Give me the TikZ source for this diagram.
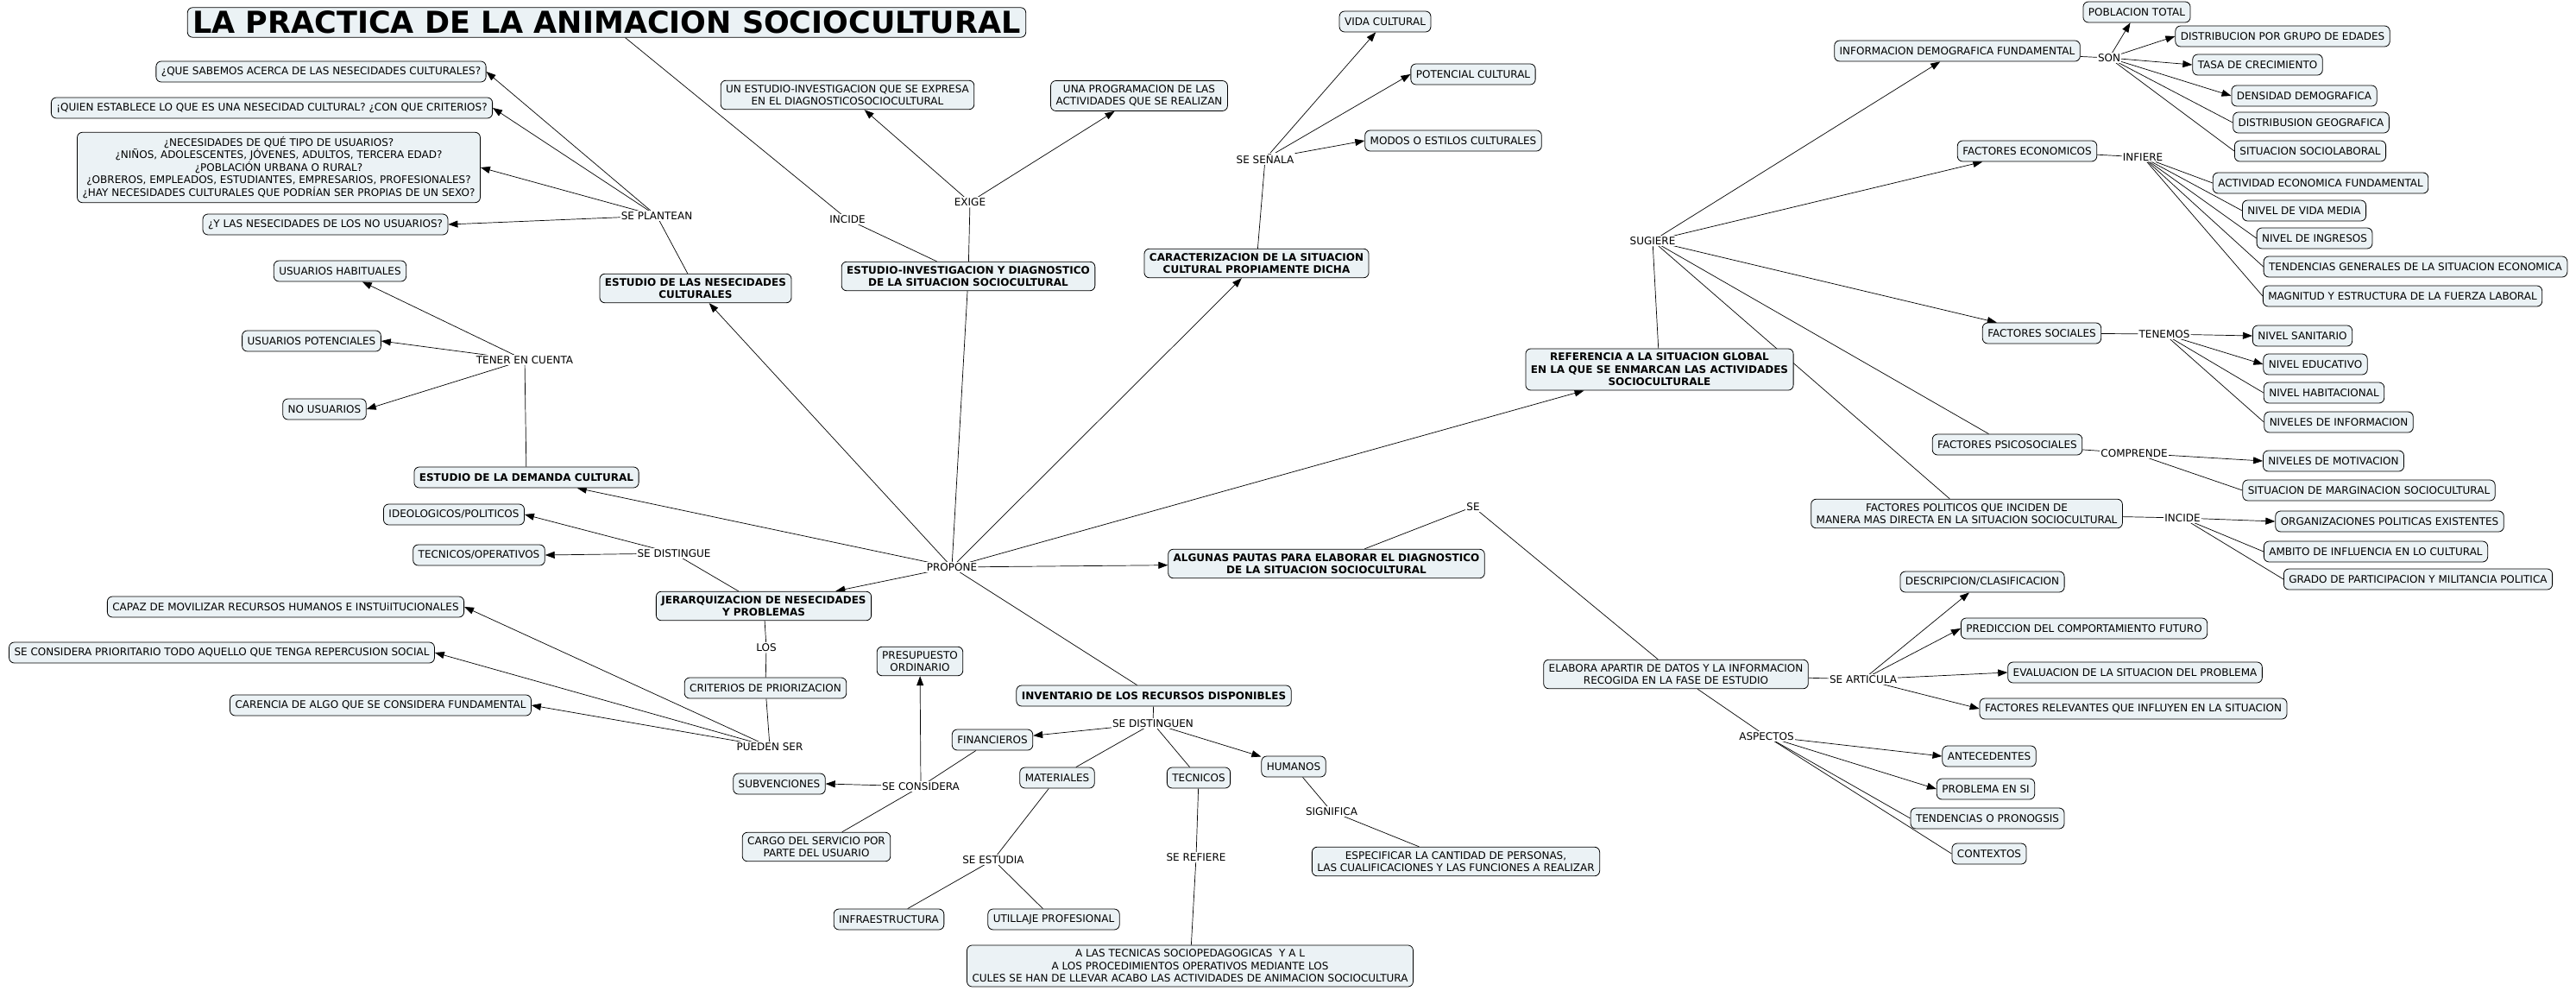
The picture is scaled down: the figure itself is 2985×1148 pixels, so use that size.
\documentclass[tikz,border=0pt]{standalone}
\usepackage{fontspec}
\setmainfont{DejaVu Sans}
\usetikzlibrary{arrows.meta,backgrounds}
\definecolor{boxfill}{RGB}{235,242,245}
\newcommand\fsm{\fontsize{12}{14.5}\selectfont}
\newcommand\fbd{\fontsize{12}{14.5}\selectfont\bfseries}
\begin{document}
\begin{tikzpicture}[x=1pt,y=-1pt,
  c/.style={draw=black,line width=0.8pt,rounded corners=6pt,fill=boxfill,font=\fsm,align=center,inner xsep=6pt,inner ysep=5pt,minimum height=24pt},
  b/.style={c,font=\fbd},
  l/.style={font=\fsm,inner sep=1pt,fill=white},
  e/.style={line width=0.7pt},
  a/.style={e,-{Triangle[length=11pt,width=8pt]}}]
\useasboundingbox (0,0) rectangle (2985,1148);
% nodes
\node[c,font=\fontsize{35}{40}\selectfont\bfseries,inner ysep=4pt] (title) at (703,26) {LA PRACTICA DE LA ANIMACION SOCIOCULTURAL};
\node[c] (q1) at (372,83) {¿QUE SABEMOS ACERCA DE LAS NESECIDADES CULTURALES?};
\node[c] (q2) at (315,125) {¡QUIEN ESTABLECE LO QUE ES UNA NESECIDAD CULTURAL? ¿CON QUE CRITERIOS?};
\node[c] (q3) at (323,194) {¿NECESIDADES DE QUÉ TIPO DE USUARIOS?\\¿NIÑOS, ADOLESCENTES, JÓVENES, ADULTOS, TERCERA EDAD?\\¿POBLACIÓN URBANA O RURAL?\\¿OBREROS, EMPLEADOS, ESTUDIANTES, EMPRESARIOS, PROFESIONALES?\\¿HAY NECESIDADES CULTURALES QUE PODRÍAN SER PROPIAS DE UN SEXO?};
\node[c] (q4) at (377,260) {¿Y LAS NESECIDADES DE LOS NO USUARIOS?};
\node[l] (plantean) at (761,250) {SE PLANTEAN};
\node[b] (enc) at (806,334) {ESTUDIO DE LAS NESECIDADES\\CULTURALES};
\node[c] (uh) at (394,314) {USUARIOS HABITUALES};
\node[c] (up) at (361,395) {USUARIOS POTENCIALES};
\node[c] (nu) at (376,474) {NO USUARIOS};
\node[l] (tener) at (608,417) {TENER EN CUENTA};
\node[b] (edc) at (610,553) {ESTUDIO DE LA DEMANDA CULTURAL};
\node[c] (ideo) at (526,596) {IDEOLOGICOS/POLITICOS};
\node[c] (tecop) at (555,643) {TECNICOS/OPERATIVOS};
\node[l] (distingue) at (781,641) {SE DISTINGUE};
\node[b] (jer) at (885,702) {JERARQUIZACION DE NESECIDADES\\Y PROBLEMAS};
\node[l] (los) at (888,750) {LOS};
\node[c] (crit) at (887,797) {CRITERIOS DE PRIORIZACION};
\node[l] (pueden) at (892,865) {PUEDEN SER};
\node[c] (capaz) at (331,703) {CAPAZ DE MOVILIZAR RECURSOS HUMANOS E INSTUiITUCIONALES};
\node[c] (prior) at (257,756) {SE CONSIDERA PRIORITARIO TODO AQUELLO QUE TENGA REPERCUSION SOCIAL};
\node[c] (caren) at (441,817) {CARENCIA DE ALGO QUE SE CONSIDERA FUNDAMENTAL};
\node[l] (propone) at (1103,657) {PROPONE};
\node[c] (presu) at (1066,766) {PRESUPUESTO\\ORDINARIO};
\node[c] (subv) at (903,908) {SUBVENCIONES};
\node[l] (considera) at (1067,911) {SE CONSIDERA};
\node[c] (cargo) at (946,981) {CARGO DEL SERVICIO POR\\PARTE DEL USUARIO};
\node[c] (infra) at (1030,1065) {INFRAESTRUCTURA};
\node[c] (unest) at (982,110) {UN ESTUDIO-INVESTIGACION QUE SE EXPRESA\\EN EL DIAGNOSTICOSOCIOCULTURAL};
\node[l] (exige) at (1124,234) {EXIGE};
\node[l] (incide) at (982,254) {INCIDE};
\node[c] (prog) at (1320,111) {UNA PROGRAMACION DE LAS\\ACTIVIDADES QUE SE REALIZAN};
\node[b] (edi) at (1122,320) {ESTUDIO-INVESTIGACION Y DIAGNOSTICO\\DE LA SITUACION SOCIOCULTURAL};
\node[b] (car) at (1456,305) {CARACTERIZACION DE LA SITUACION\\CULTURAL PROPIAMENTE DICHA};
\node[l] (senala) at (1466,184) {SE SEÑALA};
\node[c] (vida) at (1605,25) {VIDA CULTURAL};
\node[c] (pot) at (1707,86) {POTENCIAL CULTURAL};
\node[c] (modos) at (1684,163) {MODOS O ESTILOS CULTURALES};
\node[b] (pautas) at (1537,653) {ALGUNAS PAUTAS PARA ELABORAR EL DIAGNOSTICO\\DE LA SITUACION SOCIOCULTURAL};
\node[l] (se) at (1707,587) {SE};
\node[b] (ref) at (1923,428) {REFERENCIA A LA SITUACION GLOBAL\\EN LA QUE SE ENMARCAN LAS ACTIVIDADES\\SOCIOCULTURALE};
\node[l] (sugiere) at (1915,279) {SUGIERE};
\node[b] (inv) at (1337,806) {INVENTARIO DE LOS RECURSOS DISPONIBLES};
\node[l] (distinguen) at (1336,838) {SE DISTINGUEN};
\node[c] (fin) at (1150,857) {FINANCIEROS};
\node[c] (mat) at (1225,901) {MATERIALES};
\node[c] (tec) at (1389,901) {TECNICOS};
\node[c] (hum) at (1499,888) {HUMANOS};
\node[l] (estudia) at (1151,996) {SE ESTUDIA};
\node[c] (util) at (1221,1065) {UTILLAJE PROFESIONAL};
\node[l] (refiere) at (1386,993) {SE REFIERE};
\node[c] (tecn) at (1379,1119) {A LAS TECNICAS SOCIOPEDAGOGICAS \ Y A L\\A LOS PROCEDIMIENTOS OPERATIVOS MEDIANTE LOS\\CULES SE HAN DE LLEVAR ACABO LAS ACTIVIDADES DE ANIMACION SOCIOCULTURA};
\node[l] (significa) at (1543,940) {SIGNIFICA};
\node[c] (espec) at (1687,998) {ESPECIFICAR LA CANTIDAD DE PERSONAS,\\LAS CUALIFICACIONES Y LAS FUNCIONES A REALIZAR};
\node[c] (elab) at (1942,781) {ELABORA APARTIR DE DATOS Y LA INFORMACION\\RECOGIDA EN LA FASE DE ESTUDIO};
\node[l] (aspectos) at (2047,853) {ASPECTOS};
\node[l] (articula) at (2159,787) {SE ARTICULA};
\node[c] (infdem) at (2268,59) {INFORMACION DEMOGRAFICA FUNDAMENTAL};
\node[l] (son) at (2444,67) {SON};
\node[c] (pob) at (2476,14) {POBLACION TOTAL};
\node[c] (dge) at (2645,42) {DISTRIBUCION POR GRUPO DE EDADES};
\node[c] (tasa) at (2616,75) {TASA DE CRECIMIENTO};
\node[c] (dens) at (2670,111) {DENSIDAD DEMOGRAFICA};
\node[c] (dgeo) at (2678,142) {DISTRIBUSION GEOGRAFICA};
\node[c] (sits) at (2677,175) {SITUACION SOCIOLABORAL};
\node[c] (fe) at (2349,175) {FACTORES ECONOMICOS};
\node[l] (infiere) at (2483,182) {INFIERE};
\node[c] (act) at (2689,212) {ACTIVIDAD ECONOMICA FUNDAMENTAL};
\node[c] (nvm) at (2670,244) {NIVEL DE VIDA MEDIA};
\node[c] (ning) at (2682,276) {NIVEL DE INGRESOS};
\node[c] (tendg) at (2799,309) {TENDENCIAS GENERALES DE LA SITUACION ECONOMICA};
\node[c] (mag) at (2784,343) {MAGNITUD Y ESTRUCTURA DE LA FUERZA LABORAL};
\node[c] (fs) at (2366,386) {FACTORES SOCIALES};
\node[l] (tenemos) at (2508,387) {TENEMOS};
\node[c] (nsan) at (2668,389) {NIVEL SANITARIO};
\node[c] (nedu) at (2683,422) {NIVEL EDUCATIVO};
\node[c] (nhab) at (2693,455) {NIVEL HABITACIONAL};
\node[c] (ninf) at (2710,489) {NIVELES DE INFORMACION};
\node[c] (fps) at (2326,515) {FACTORES PSICOSOCIALES};
\node[l] (comprende) at (2473,525) {COMPRENDE};
\node[c] (nmot) at (2704,534) {NIVELES DE MOTIVACION};
\node[c] (smarg) at (2745,568) {SITUACION DE MARGINACION SOCIOCULTURAL};
\node[c] (fpol) at (2279,595) {FACTORES POLITICOS QUE INCIDEN DE\\MANERA MAS DIRECTA EN LA SITUACION SOCIOCULTURAL};
\node[l] (incide2) at (2529,600) {INCIDE};
\node[c] (org) at (2769,604) {ORGANIZACIONES POLITICAS EXISTENTES};
\node[c] (amb) at (2753,639) {AMBITO DE INFLUENCIA EN LO CULTURAL};
\node[c] (grado) at (2802,671) {GRADO DE PARTICIPACION Y MILITANCIA POLITICA};
\node[c] (desc) at (2297,674) {DESCRIPCION/CLASIFICACION};
\node[c] (pred) at (2415,728) {PREDICCION DEL COMPORTAMIENTO FUTURO};
\node[c] (eval) at (2474,779) {EVALUACION DE LA SITUACION DEL PROBLEMA};
\node[c] (facrel) at (2472,821) {FACTORES RELEVANTES QUE INFLUYEN EN LA SITUACION};
\node[c] (ant) at (2305,876) {ANTECEDENTES};
\node[c] (prob) at (2301,914) {PROBLEMA EN SI};
\node[c] (tend) at (2303,948) {TENDENCIAS O PRONOGSIS};
\node[c] (cont) at (2305,989) {CONTEXTOS};
% edges
\begin{pgfonlayer}{background}
\draw[e] (title) -- (incide); \draw[e] (incide) -- (edi);
\draw[e] (edi) -- (exige); \draw[a] (exige) -- (unest); \draw[a] (exige) -- (prog);
\draw[e] (edi) -- (propone);
\draw[a] (propone) -- (enc); \draw[a] (propone) -- (edc); \draw[a] (propone) -- (jer);
\draw[a] (propone) -- (car); \draw[a] (propone) -- (ref); \draw[a] (propone) -- (pautas);
\draw[e] (propone) -- (inv);
\draw[e] (enc) -- (plantean);
\foreach \t in {q1,q2,q3,q4} \draw[a] (plantean) -- (\t.east);
\draw[e] (edc) -- (tener);
\draw[a] (tener) -- (uh); \draw[a] (tener) -- (up.east); \draw[a] (tener) -- (nu.east);
\draw[e] (jer) -- (distingue);
\draw[a] (distingue) -- (ideo.east); \draw[a] (distingue) -- (tecop.east);
\draw[e] (jer) -- (los); \draw[e] (los) -- (crit); \draw[e] (crit) -- (pueden);
\foreach \t in {capaz,prior,caren} \draw[a] (pueden) -- (\t.east);
\draw[e] (fin) -- (considera); \draw[a] (considera) -- (presu); \draw[a] (considera) -- (subv.east); \draw[e] (considera) -- (cargo);
\draw[e] (inv) -- (distinguen);
\draw[a] (distinguen) -- (fin); \draw[e] (distinguen) -- (mat); \draw[e] (distinguen) -- (tec); \draw[a] (distinguen) -- (hum);
\draw[e] (mat) -- (estudia); \draw[e] (estudia) -- (infra); \draw[e] (estudia) -- (util);
\draw[e] (tec) -- (refiere); \draw[e] (refiere) -- (tecn);
\draw[e] (hum) -- (significa); \draw[e] (significa) -- (espec);
\draw[e] (car) -- (senala);
\draw[a] (senala) -- (vida); \draw[a] (senala) -- (pot.west); \draw[a] (senala) -- (modos.west);
\draw[e] (pautas) -- (se); \draw[e] (se) -- (elab);
\draw[e] (elab) -- (articula);
\draw[a] (articula) -- (desc); \draw[a] (articula) -- (pred.west); \draw[a] (articula) -- (eval.west); \draw[a] (articula) -- (facrel.west);
\draw[e] (elab) -- (aspectos);
\draw[a] (aspectos) -- (ant.west); \draw[a] (aspectos) -- (prob.west); \draw[e] (aspectos) -- (tend.west); \draw[e] (aspectos) -- (cont.west);
\draw[e] (ref) -- (sugiere);
\draw[a] (sugiere) -- (infdem); \draw[a] (sugiere) -- (fe); \draw[a] (sugiere) -- (fs);
\draw[e] (sugiere) -- (fps); \draw[e] (sugiere) -- (fpol);
\draw[e] (infdem) -- (son);
\draw[a] (son) -- (pob); \draw[a] (son) -- (dge.west); \draw[a] (son) -- (tasa.west); \draw[a] (son) -- (dens.west);
\draw[e] (son) -- (dgeo.west); \draw[e] (son) -- (sits.west);
\draw[e] (fe) -- (infiere);
\foreach \t in {act,nvm,ning,tendg,mag} \draw[e] (infiere) -- (\t.west);
\draw[e] (fs) -- (tenemos);
\draw[a] (tenemos) -- (nsan.west); \draw[a] (tenemos) -- (nedu.west); \draw[e] (tenemos) -- (nhab.west); \draw[e] (tenemos) -- (ninf.west);
\draw[e] (fps) -- (comprende);
\draw[a] (comprende) -- (nmot.west); \draw[e] (comprende) -- (smarg.west);
\draw[e] (fpol) -- (incide2);
\draw[a] (incide2) -- (org.west); \draw[e] (incide2) -- (amb.west); \draw[e] (incide2) -- (grado.west);
\end{pgfonlayer}
\end{tikzpicture}
\end{document}
